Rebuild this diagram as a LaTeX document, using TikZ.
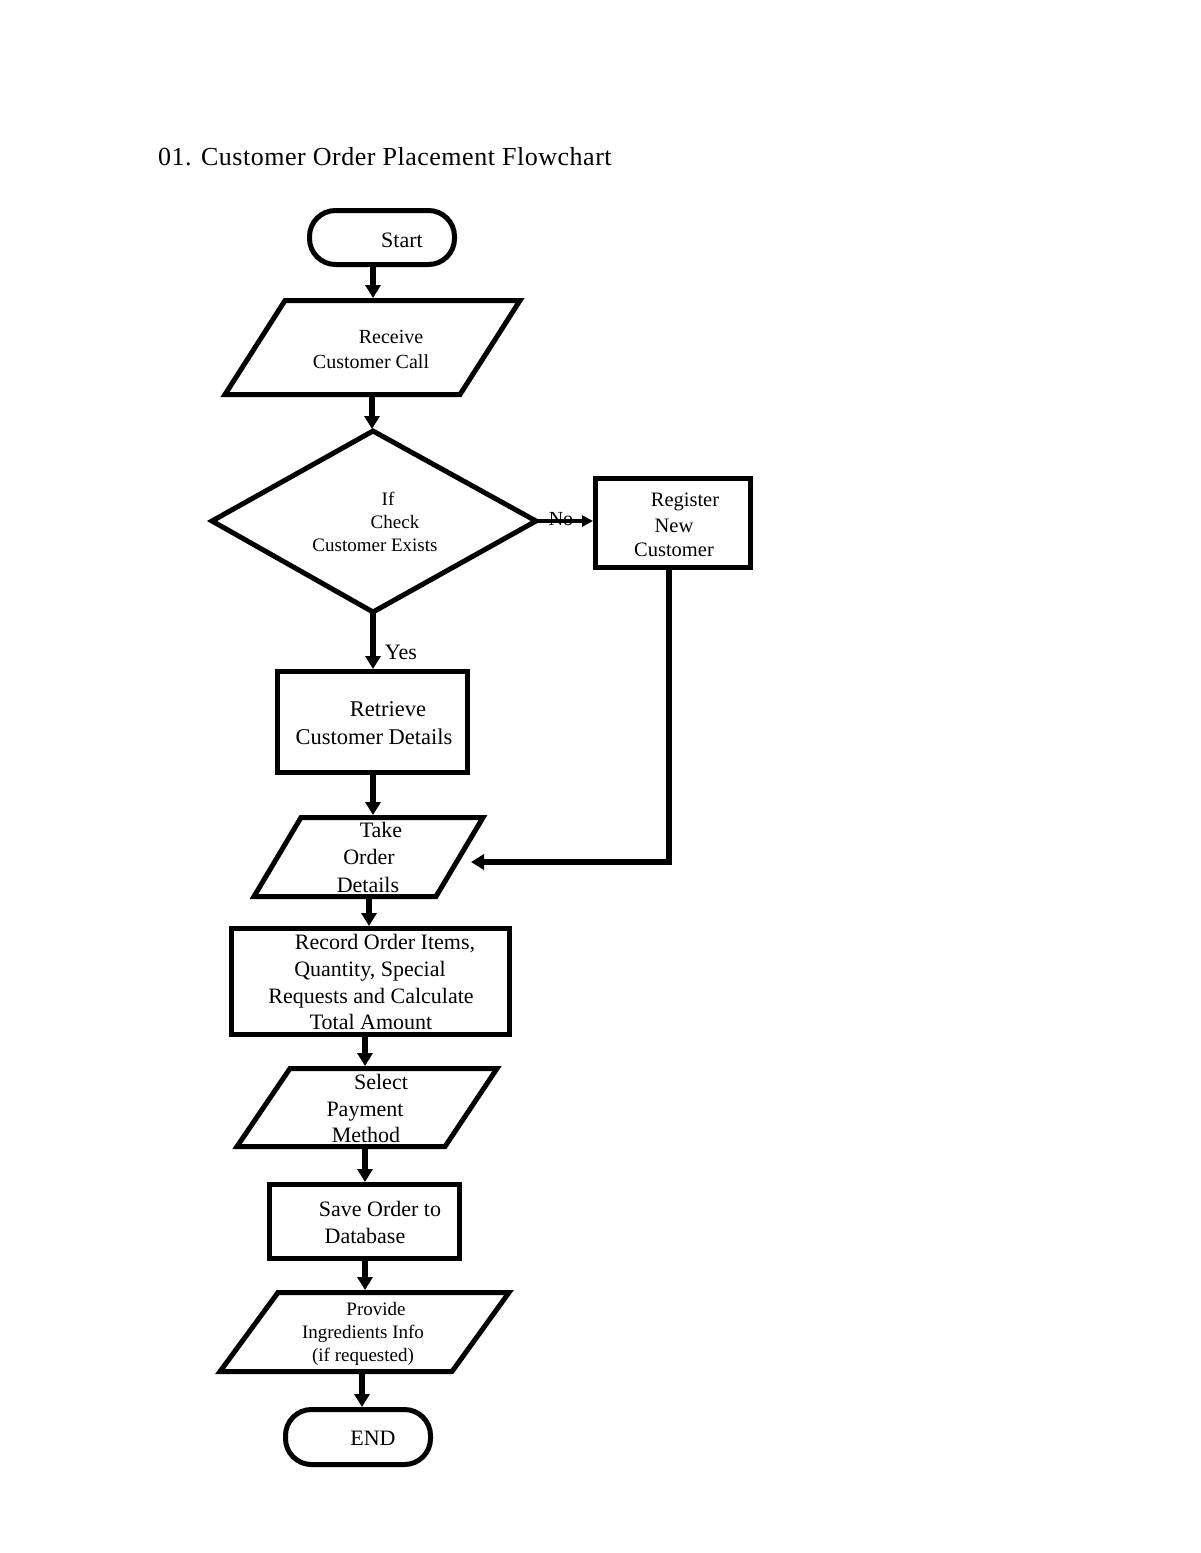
\documentclass[tikz,border=0pt]{standalone}
\usepackage{fontspec}
\setmainfont{Liberation Serif}
\usetikzlibrary{arrows.meta}
\begin{document}
\begin{tikzpicture}[x=1pt,y=-1pt,
  shp/.style={draw=black, line width=5pt, line join=miter},
  boxn/.style={shp, rectangle, inner sep=0pt},
  term/.style={shp, rectangle, rounded corners=26pt, inner sep=0pt},
  arr/.style={line width=5.5pt, -{Triangle[length=13pt,width=15pt]}},
  thinarr/.style={line width=4pt, -{Triangle[length=11pt,width=11pt]}},
  lbl/.style={inner sep=0pt, text height=0.66em, text depth=0pt, yshift=-4pt, font=\fontsize{#1}{#1}\selectfont},
  lbl/.default=22
]
\useasboundingbox (0,0) rectangle (1200,1553);
\fill[white] (0,0) rectangle (1200,1553);

% title
\node[lbl=26, anchor=west, font=\fontsize{26}{26}\selectfont\addfontfeature{LetterSpace=2}] (title) at (158,158) {01. Customer Order Placement Flowchart};

% terminals and boxes
\node[term, minimum width=145pt, minimum height=54pt] (start) at (382,237.5) {};
\node[boxn, minimum width=155pt, minimum height=89pt] (reg) at (673,523) {};
\node[boxn, minimum width=190pt, minimum height=101pt] (retr) at (372.5,722) {};
\node[boxn, minimum width=278pt, minimum height=106pt] (rec) at (370.5,981.5) {};
\node[boxn, minimum width=190pt, minimum height=74pt] (save) at (364.5,1221.5) {};
\node[term, minimum width=145pt, minimum height=55pt] (end) at (358,1437) {};

% parallelograms and decision
\draw[shp] (285,300.5) -- (520,300.5) -- (460,394.5) -- (225,394.5) -- cycle;
\coordinate (recvT) at (373,298);
\coordinate (recvB) at (372,394.5);
\draw[shp] (373,431) -- (536,521) -- (373,612) -- (212,521) -- cycle;
\coordinate (decT) at (372,429);
\coordinate (decR) at (536,521);
\coordinate (decB) at (373,612);
\draw[shp] (301,817.5) -- (483,817.5) -- (436,896.5) -- (254,896.5) -- cycle;
\coordinate (takeT) at (373,815);
\coordinate (takeB) at (369,896.5);
\coordinate (takeR) at (471,862);
\draw[shp] (290,1068.5) -- (497,1068.5) -- (445,1146.5) -- (237,1146.5) -- cycle;
\coordinate (selT) at (365,1066);
\coordinate (selB) at (365,1146.5);
\draw[shp] (278,1292.5) -- (509,1292.5) -- (452,1371.5) -- (220,1371.5) -- cycle;
\coordinate (provT) at (365,1290);
\coordinate (provB) at (362,1371.5);
\coordinate (bend) at (669,862);

% connectors
\draw[arr] (start.south -| recvT) -- (recvT);
\draw[arr] (recvB) -- (decT);
\draw[thinarr] (decR) -- (decR -| reg.west);
\draw[arr] (decB) -- (decB |- retr.north);
\draw[arr] (retr.south -| takeT) -- (takeT);
\draw[arr] (takeB) -- (takeB |- rec.north);
\draw[arr] (rec.south -| selT) -- (selT);
\draw[arr] (selB) -- (selB |- save.north);
\draw[arr] (save.south -| provT) -- (provT);
\draw[arr] (provB) -- (provB |- end.north);
\draw[arr] (reg.south -| bend) -- (bend) -- (takeR);

% texts
\node[lbl] (tStart) at (402,240) {Start};
\node[lbl=20] (tRecv1) at (391,336) {Receive};
\node[lbl=20] (tRecv2) at (371,361) {Customer Call};
\node[lbl=19] (tDec1) at (388,498) {If};
\node[lbl=19] (tDec2) at (395,521) {Check};
\node[lbl=19] (tDec3) at (375,544) {Customer Exists};
\node[lbl=20] (tNo) at (561,518) {No};
\node[lbl=20.5] (tReg1) at (685,499) {Register};
\node[lbl=20.5] (tReg2) at (674,525) {New};
\node[lbl=20.5] (tReg3) at (674,549) {Customer};
\node[lbl] (tYes) at (401,652) {Yes};
\node[lbl=22.5] (tRet1) at (388,709) {Retrieve};
\node[lbl=22.5] (tRet2) at (374,737) {Customer Details};
\node[lbl] (tTake1) at (381,830) {Take};
\node[lbl] (tTake2) at (369,857) {Order};
\node[lbl] (tTake3) at (368,885) {Details};
\node[lbl] (tRec1) at (385,942) {Record Order Items,};
\node[lbl] (tRec2) at (370,969) {Quantity, Special};
\node[lbl] (tRec3) at (371,996) {Requests and Calculate};
\node[lbl] (tRec4) at (371,1022) {Total Amount};
\node[lbl] (tSel1) at (381,1082) {Select};
\node[lbl] (tSel2) at (365,1109) {Payment};
\node[lbl] (tSel3) at (366,1135) {Method};
\node[lbl] (tSave1) at (380,1209) {Save Order to};
\node[lbl] (tSave2) at (365,1236) {Database};
\node[lbl=19] (tProv1) at (376,1308) {Provide};
\node[lbl=19] (tProv2) at (363,1331) {Ingredients Info};
\node[lbl=19] (tProv3) at (363,1354) {(if requested)};
\node[lbl] (tEnd) at (373,1438) {END};
\end{tikzpicture}
\end{document}
